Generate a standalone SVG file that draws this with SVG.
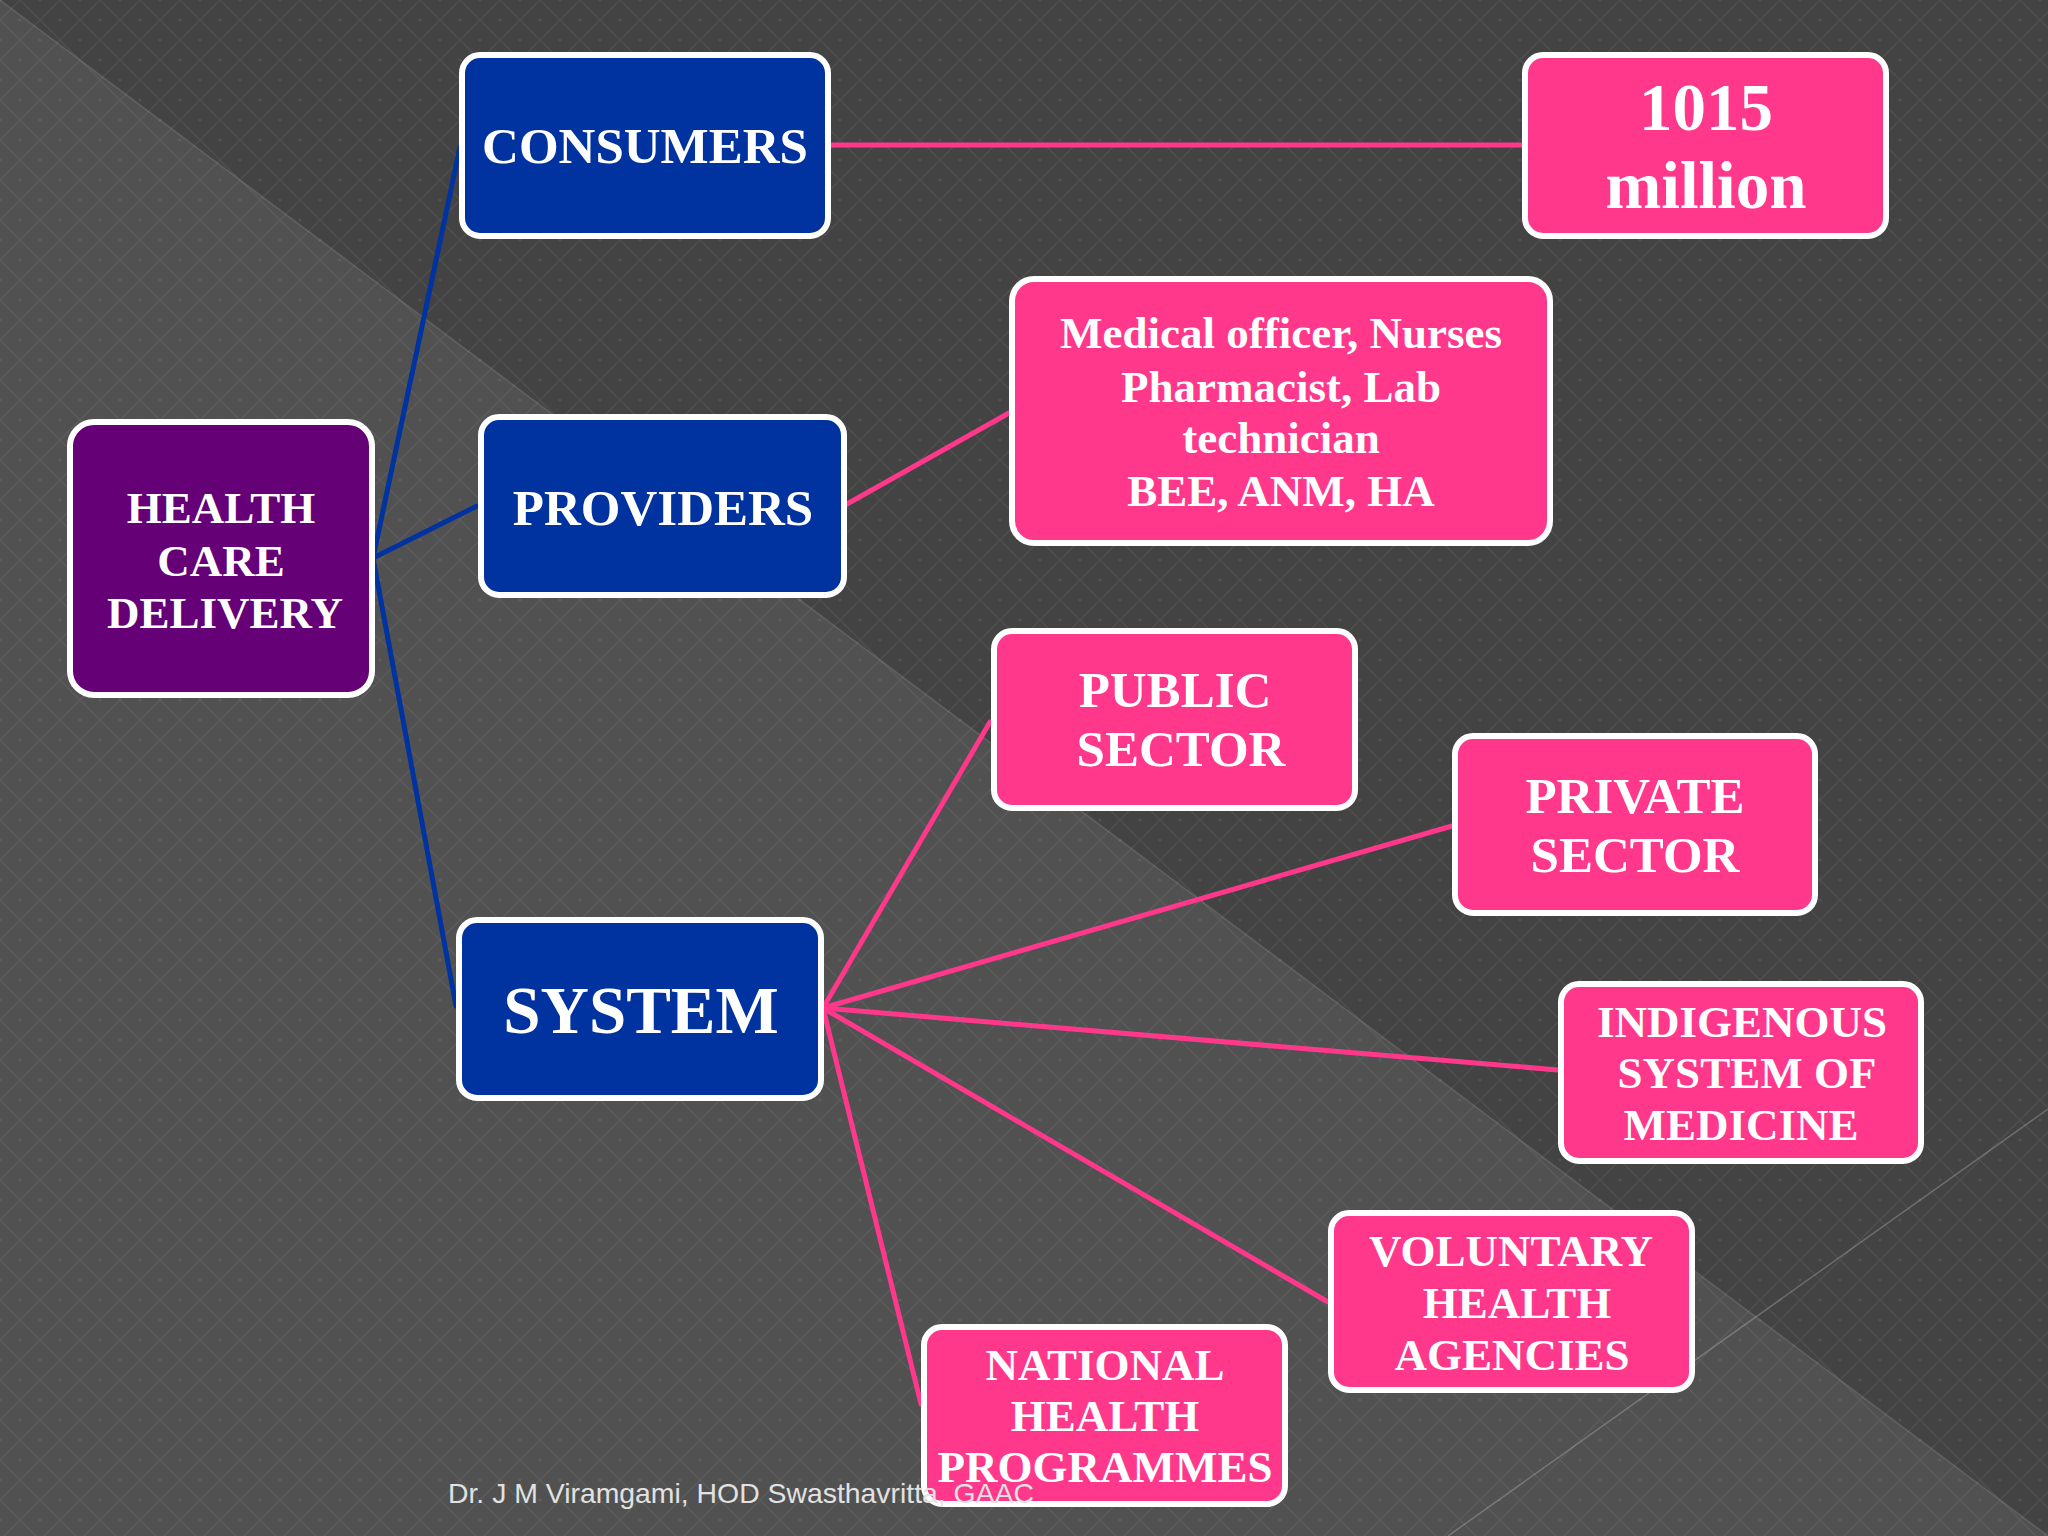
<svg xmlns="http://www.w3.org/2000/svg" width="2048" height="1536" viewBox="0 0 2048 1536">
<style>
.box{stroke:#ffffff;stroke-width:6}
.blue{fill:#0033a0}
.pink{fill:#ff388b}
.purple{fill:#660077}
.t{font-family:"Liberation Serif","Times New Roman",serif;font-weight:bold;fill:#ffffff;text-anchor:middle}
.b{stroke:#0033a0;stroke-width:5;fill:none;stroke-linecap:round}
.p{stroke:#ff388b;stroke-width:5;fill:none;stroke-linecap:round}
.foot{font-family:"Liberation Sans",Arial,sans-serif;font-size:28px;fill:#e2e2e2}
</style>
<defs>
<pattern id="diam" width="40" height="40" patternUnits="userSpaceOnUse">
<path d="M0 20 L20 0 L40 20 L20 40 Z" fill="none" stroke="#ffffff" stroke-opacity="0.07" stroke-width="1.2"/>
<circle cx="20" cy="20" r="1.6" fill="#ffffff" fill-opacity="0.08"/>
<circle cx="0" cy="0" r="1.6" fill="#ffffff" fill-opacity="0.08"/>
<circle cx="40" cy="0" r="1.6" fill="#ffffff" fill-opacity="0.08"/>
<circle cx="0" cy="40" r="1.6" fill="#ffffff" fill-opacity="0.08"/>
<circle cx="40" cy="40" r="1.6" fill="#ffffff" fill-opacity="0.08"/>
</pattern>
</defs>
<g id="background">
<rect x="0" y="0" width="2048" height="1536" fill="#434343"/>
<polygon points="0,0 2048,1536 0,1536" fill="#515151"/>
<rect x="0" y="0" width="2048" height="1536" fill="url(#diam)"/>
<line x1="0" y1="0" x2="2048" y2="1536" stroke="#ffffff" stroke-opacity="0.12" stroke-width="1.5"/>
<line x1="2048" y1="1109" x2="1448" y2="1536" stroke="#ffffff" stroke-opacity="0.22" stroke-width="1.5"/>
</g>
<g id="connectors">
<line class="b" x1="373" y1="558" x2="460" y2="147"/>
<line class="b" x1="373" y1="558" x2="477" y2="506"/>
<line class="b" x1="373" y1="558" x2="456" y2="1006"/>
<line class="p" x1="831" y1="145" x2="1522" y2="145"/>
<line class="p" x1="847" y1="504" x2="1009" y2="413"/>
<line class="p" x1="823" y1="1008" x2="990" y2="722"/>
<line class="p" x1="823" y1="1008" x2="1452" y2="826"/>
<line class="p" x1="823" y1="1008" x2="1558" y2="1070"/>
<line class="p" x1="823" y1="1008" x2="1328" y2="1302"/>
<line class="p" x1="823" y1="1008" x2="921" y2="1404"/>
</g>
<g id="node-health-care-delivery">
<rect class="box purple" x="70" y="422" width="302" height="273" rx="24"/>
<text class="t" font-size="45" x="221" y="523">HEALTH</text>
<text class="t" font-size="45" x="221" y="576">CARE</text>
<text class="t" font-size="45" x="225" y="628">DELIVERY</text>
</g>
<g id="node-consumers">
<rect class="box blue" x="462" y="55" width="366" height="181" rx="18"/>
<text class="t" font-size="51" x="645" y="163">CONSUMERS</text>
</g>
<g id="node-providers">
<rect class="box blue" x="481" y="417" width="363" height="178" rx="18"/>
<text class="t" font-size="51" x="663" y="525">PROVIDERS</text>
</g>
<g id="node-system">
<rect class="box blue" x="459" y="920" width="362" height="178" rx="18"/>
<text class="t" font-size="67" x="641" y="1033">SYSTEM</text>
</g>
<g id="node-1015-million">
<rect class="box pink" x="1525" y="55" width="361" height="181" rx="18"/>
<text class="t" font-size="67" x="1706" y="130">1015</text>
<text class="t" font-size="67" x="1706" y="208">million</text>
</g>
<g id="node-medical-staff">
<rect class="box pink" x="1012" y="279" width="538" height="264" rx="22"/>
<text class="t" font-size="45" x="1281" y="348">Medical officer, Nurses</text>
<text class="t" font-size="45" x="1281" y="402">Pharmacist, Lab</text>
<text class="t" font-size="45" x="1281" y="453">technician</text>
<text class="t" font-size="45" x="1281" y="506">BEE, ANM, HA</text>
</g>
<g id="node-public-sector">
<rect class="box pink" x="994" y="631" width="361" height="177" rx="18"/>
<text class="t" font-size="51" x="1175" y="707">PUBLIC</text>
<text class="t" font-size="51" x="1181" y="766">SECTOR</text>
</g>
<g id="node-private-sector">
<rect class="box pink" x="1455" y="736" width="360" height="177" rx="18"/>
<text class="t" font-size="51" x="1635" y="813">PRIVATE</text>
<text class="t" font-size="51" x="1635" y="872">SECTOR</text>
</g>
<g id="node-indigenous">
<rect class="box pink" x="1561" y="984" width="360" height="177" rx="18"/>
<text class="t" font-size="45" x="1742" y="1037">INDIGENOUS</text>
<text class="t" font-size="45" x="1747" y="1088">SYSTEM OF</text>
<text class="t" font-size="45" x="1741" y="1140">MEDICINE</text>
</g>
<g id="node-voluntary">
<rect class="box pink" x="1331" y="1213" width="361" height="177" rx="18"/>
<text class="t" font-size="45" x="1511" y="1266">VOLUNTARY</text>
<text class="t" font-size="45" x="1517" y="1318">HEALTH</text>
<text class="t" font-size="45" x="1512" y="1370">AGENCIES</text>
</g>
<g id="node-national">
<rect class="box pink" x="924" y="1327" width="361" height="177" rx="18"/>
<text class="t" font-size="45" x="1105" y="1380">NATIONAL</text>
<text class="t" font-size="45" x="1105" y="1431">HEALTH</text>
<text class="t" font-size="45" x="1105" y="1482">PROGRAMMES</text>
</g>
<text class="foot" x="448" y="1503" textLength="586" lengthAdjust="spacingAndGlyphs">Dr. J M Viramgami, HOD Swasthavritta, GAAC</text>
</svg>
